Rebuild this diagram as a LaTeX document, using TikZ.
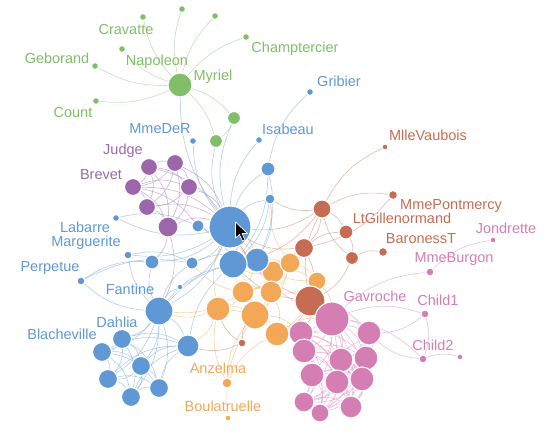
\documentclass[tikz,border=0pt]{standalone}
\usepackage{fontspec}
\setmainfont{Liberation Sans}
\pgfdeclarelayer{bg}
\pgfsetlayers{bg,main}
\definecolor{cB}{RGB}{95,152,212}
\definecolor{cG}{RGB}{128,190,104}
\definecolor{cP}{RGB}{156,103,170}
\definecolor{cO}{RGB}{243,168,88}
\definecolor{cR}{RGB}{198,108,82}
\definecolor{cK}{RGB}{212,126,180}
\tikzset{
  nd/.style={circle, draw=white, line width=1.1pt, inner sep=0pt, minimum size=#1},
  lbl/.style={font=\fontsize{14.5}{16}\selectfont, inner sep=0pt},
  ed/.style={line width=.65pt, opacity=.6},
  eB/.style={ed, draw=cB!75!white},
  eG/.style={ed, draw=cG!75!white},
  eP/.style={ed, draw=cP!75!white},
  eO/.style={ed, draw=cO!80!white},
  eR/.style={ed, draw=cR!75!white},
  eK/.style={ed, draw=cK!75!white},
}
\begin{document}
\begin{tikzpicture}[x=1pt,y=-1pt]
\useasboundingbox (0,0) rectangle (558,438);
% ---------- green
\node[nd=24, fill=cG] (myriel) at (180,85) {};
\node[nd=7, fill=cG] (g1) at (143,17) {};
\node[nd=7, fill=cG] (g2) at (182,9) {};
\node[nd=7, fill=cG] (g3) at (215,16) {};
\node[nd=7, fill=cG] (g4) at (246,37) {};
\node[nd=7, fill=cG] (g5) at (122,49) {};
\node[nd=7, fill=cG] (g6) at (95,66) {};
\node[nd=7, fill=cG] (g7) at (96,101) {};
\node[nd=13, fill=cG] (baptistine) at (234,118) {};
\node[nd=13, fill=cG] (magloire) at (216,141) {};
% ---------- purple
\node[nd=17, fill=cP] (p1) at (149,167) {};
\node[nd=17, fill=cP] (p2) at (175,163) {};
\node[nd=17, fill=cP] (p3) at (133,187) {};
\node[nd=17, fill=cP] (p4) at (189,187) {};
\node[nd=17, fill=cP] (p5) at (147,207) {};
\node[nd=20, fill=cP] (p6) at (168,227) {};
% ---------- blue
\node[nd=7, fill=cB] (mmeder) at (193,141) {};
\node[nd=7, fill=cB] (isabeau) at (259,140) {};
\node[nd=7, fill=cB] (gribier) at (310,92) {};
\node[nd=14, fill=cB] (b4) at (268,169) {};
\node[nd=10, fill=cB] (b3) at (270,199) {};
\node[nd=12, fill=cB] (b5) at (198,226) {};
\node[nd=12, fill=cB] (b6) at (192,263) {};
\node[nd=7, fill=cB] (labarre) at (116,218) {};
\node[nd=8, fill=cB] (marguerite) at (128,255) {};
\node[nd=14, fill=cB] (b7) at (152,262) {};
\node[nd=8, fill=cB] (perpetue) at (81,281) {};
\node[nd=6, fill=cB] (b8) at (180,287) {};
\node[nd=28, fill=cB] (fantine) at (159,311) {};
\node[nd=19, fill=cB] (dahlia) at (122,339) {};
\node[nd=19, fill=cB] (blacheville) at (102,352) {};
\node[nd=19, fill=cB] (b9) at (141,366) {};
\node[nd=19, fill=cB] (b10) at (108,379) {};
\node[nd=19, fill=cB] (b11) at (131,397) {};
\node[nd=19, fill=cB] (b12) at (159,388) {};
\node[nd=22, fill=cB] (b13) at (188,346) {};
% ---------- red
\node[nd=6, fill=cR] (mllevaubois) at (385,147) {};
\node[nd=9, fill=cR] (mmepontmercy) at (393,195) {};
\node[nd=18, fill=cR] (r1) at (322,209) {};
\node[nd=14, fill=cR] (r2) at (346,232) {};
\node[nd=9, fill=cR] (baronesst) at (383,252) {};
\node[nd=13, fill=cR] (r4) at (352,258) {};
\node[nd=19, fill=cR] (r3) at (304,248) {};
\node[nd=8, fill=cR] (r6) at (242,343) {};
% ---------- orange
\node[nd=22, fill=cO] (o1) at (273,272) {};
\node[nd=20, fill=cO] (o2) at (290,263) {};
\node[nd=18, fill=cO] (o3) at (317,281) {};
\node[nd=22, fill=cO] (o4) at (243,292) {};
\node[nd=22, fill=cO] (o5) at (271,292) {};
\node[nd=24, fill=cO] (o6) at (218,309) {};
\node[nd=28, fill=cO] (o7) at (255,315) {};
\node[nd=24, fill=cO] (o8) at (277,334) {};
\node[nd=10, fill=cO] (anzelma) at (227,383) {};
\node[nd=6, fill=cO] (boulatruelle) at (228,418) {};
\node[nd=30, fill=cR] (r5) at (310,301) {};
% ---------- blue centre
\node[nd=24, fill=cB] (b2) at (257,260) {};
\node[nd=28, fill=cB] (b1) at (233,264) {};
\node[nd=42, fill=cB] (valjean) at (230,227) {};
% ---------- pink
\node[nd=8, fill=cK] (mmeburgon) at (430,272) {};
\node[nd=6, fill=cK] (jondrette) at (493,240) {};
\node[nd=8, fill=cK] (child1) at (425,314) {};
\node[nd=8, fill=cK] (child2) at (423,359) {};
\node[nd=6, fill=cK] (k12) at (460,357) {};
\node[nd=24, fill=cK] (k1) at (301,333) {};
\node[nd=24, fill=cK] (k2) at (369,333) {};
\node[nd=24, fill=cK] (k3) at (304,351) {};
\node[nd=24, fill=cK] (k4) at (341,360) {};
\node[nd=24, fill=cK] (k5) at (366,358) {};
\node[nd=24, fill=cK] (k6) at (312,375) {};
\node[nd=24, fill=cK] (k7) at (337,382) {};
\node[nd=24, fill=cK] (k8) at (362,379) {};
\node[nd=20, fill=cK] (k9) at (304,402) {};
\node[nd=18, fill=cK] (k10) at (320,413) {};
\node[nd=22, fill=cK] (k11) at (351,407) {};
\node[nd=34, fill=cK] (gavroche) at (332,319) {};
% ---------- edges
\begin{pgfonlayer}{bg}
\foreach \a in {g1,g2,g3,g4,g5,g6,g7,baptistine,magloire}
  \draw[eG] (myriel) to[bend left=15] (\a);
\draw[eG] (baptistine) to[bend left=15] (magloire);
\foreach \a in {myriel,baptistine,magloire,labarre,marguerite,mmeder,isabeau,b3,b4,b5,b6,b7,b8,b1,b2,fantine}
  \draw[eB] (valjean) to[bend left=18] (\a);
\foreach \a/\b in {b4/gribier,b4/b1,b3/b1,b4/b2,fantine/marguerite,fantine/b7,fantine/perpetue,perpetue/b7,perpetue/b6,fantine/b8,fantine/b6,fantine/b1,fantine/b2,b2/b1,b5/b1,b6/b2,b13/b1,b3/b2,labarre/b5,marguerite/b6}
  \draw[eB] (\a) to[bend left=18] (\b);
\foreach \a in {dahlia,blacheville,b9,b10,b11,b12,b13}
  \draw[eB] (fantine) to[bend left=18] (\a);
\foreach \a/\b in {dahlia/blacheville,dahlia/b9,dahlia/b10,dahlia/b11,dahlia/b12,dahlia/b13,blacheville/b9,blacheville/b10,blacheville/b11,blacheville/b12,blacheville/b13,b9/b10,b9/b11,b9/b12,b9/b13,b10/b11,b10/b12,b10/b13,b11/b12,b11/b13,b12/b13}
  \draw[eB] (\a) to[bend left=22] (\b);
\foreach \a/\b in {p1/p2,p1/p3,p1/p4,p1/p5,p1/p6,p2/p3,p2/p4,p2/p5,p2/p6,p3/p4,p3/p5,p3/p6,p4/p5,p4/p6,p5/p6,p1/valjean,p2/valjean,p3/valjean,p4/valjean,p5/valjean,p6/valjean,p6/fantine,p6/b7,p3/b5}
  \draw[eP] (\a) to[bend left=20] (\b);
\foreach \a/\b in {o1/o2,o1/o4,o1/o5,o2/o3,o2/o5,o4/o5,o4/o6,o5/o7,o6/o7,o7/o8,o5/o8,o3/o8,o1/o7,o2/o7,o4/o7,o3/o5,o6/o8,o1/o3,o2/o4,o1/valjean,o4/valjean,o6/valjean,o2/valjean,o1/b1,o5/b1,o7/b2,o6/fantine,o4/fantine,anzelma/o6,anzelma/o7,anzelma/o8,boulatruelle/o7,o8/gavroche,o7/k1,o3/gavroche,o6/b13,o4/b6,o2/b3,o3/b2}
  \draw[eO] (\a) to[bend left=18] (\b);
\foreach \a/\b in {r1/mllevaubois,r1/mmepontmercy,r1/r2,r1/r3,r1/valjean,r1/b1,r3/r2,r3/r5,r3/b1,r3/valjean,r2/r4,r4/baronesst,r4/r1,r4/r5,r5/r1,r5/gavroche,r5/o3,r5/o8,r5/k2,r5/k1,mmepontmercy/r3,r6/b13,r6/o6,r6/o7,r5/b1,r5/valjean,r1/b3,r3/o2}
  \draw[eR] (\a) to[bend left=18] (\b);
\foreach \a in {k1,k2,k3,k4,k5,k6,k7,k8,k9,k10,k11,child1,child2,mmeburgon,valjean}
  \draw[eK] (gavroche) to[bend left=18] (\a);
\foreach \a/\b in {child1/child2,child2/k12,child1/k2,child2/k2,mmeburgon/jondrette}
  \draw[eK] (\a) to[bend left=18] (\b);
\foreach \i [evaluate=\i as \n using int(\i+1)] in {1,...,10}
  \foreach \j in {\n,...,11}
    \draw[eK] (k\i) to[bend left=22] (k\j);
\end{pgfonlayer}
% ---------- labels
\node[lbl, text=cG] (lCravatte) at (126,30) {Cravatte};
\node[lbl, text=cG] (lGeborand) at (57,58) {Geborand};
\node[lbl, text=cG] (lNapoleon) at (157,62) {Napoleon};
\node[lbl, text=cG] (lMyriel) at (213,77) {Myriel};
\node[lbl, text=cG] (lChamptercier) at (295,49) {Champtercier};
\node[lbl, text=cG] (lCount) at (73,113) {Count};
\node[lbl, text=cB] (lMmeDeR) at (160,129) {MmeDeR};
\node[lbl, text=cB] (lIsabeau) at (288,129) {Isabeau};
\node[lbl, text=cB] (lGribier) at (339,81) {Gribier};
\node[lbl, text=cP] (lJudge) at (123,151) {Judge};
\node[lbl, text=cP] (lBrevet) at (101,175) {Brevet};
\node[lbl, text=cB] (lLabarre) at (85,227) {Labarre};
\node[lbl, text=cB] (lMarguerite) at (86,243) {Marguerite};
\node[lbl, text=cB] (lPerpetue) at (50,268) {Perpetue};
\node[lbl, text=cB] (lFantine) at (130,289) {Fantine};
\node[lbl, text=cB] (lDahlia) at (117,322) {Dahlia};
\node[lbl, text=cB] (lBlacheville) at (62,334) {Blacheville};
\node[lbl, text=cO] (lAnzelma) at (218,368) {Anzelma};
\node[lbl, text=cO] (lBoulatruelle) at (223,406) {Boulatruelle};
\node[lbl, text=cR] (lMlleVaubois) at (428,135) {MlleVaubois};
\node[lbl, text=cR] (lMmePontmercy) at (451,206) {MmePontmercy};
\node[lbl, text=cR] (lLtGillenormand) at (402,218) {LtGillenormand};
\node[lbl, text=cR] (lBaronessT) at (421,239) {BaronessT};
\node[lbl, text=cK] (lJondrette) at (506,228) {Jondrette};
\node[lbl, text=cK] (lMmeBurgon) at (454,259) {MmeBurgon};
\node[lbl, text=cK] (lGavroche) at (375,296) {Gavroche};
\node[lbl, text=cK] (lChild1) at (438,300) {Child1};
\node[lbl, text=cK] (lChild2) at (433,345) {Child2};
% ---------- cursor
\fill[black, draw=white, line width=.7pt, line join=round] (235.5,222) -- (235.5,238) -- (239.5,234.5) -- (242.5,241) -- (245,240) -- (242,233.5) -- (247.5,233.5) -- cycle;
\end{tikzpicture}
\end{document}
